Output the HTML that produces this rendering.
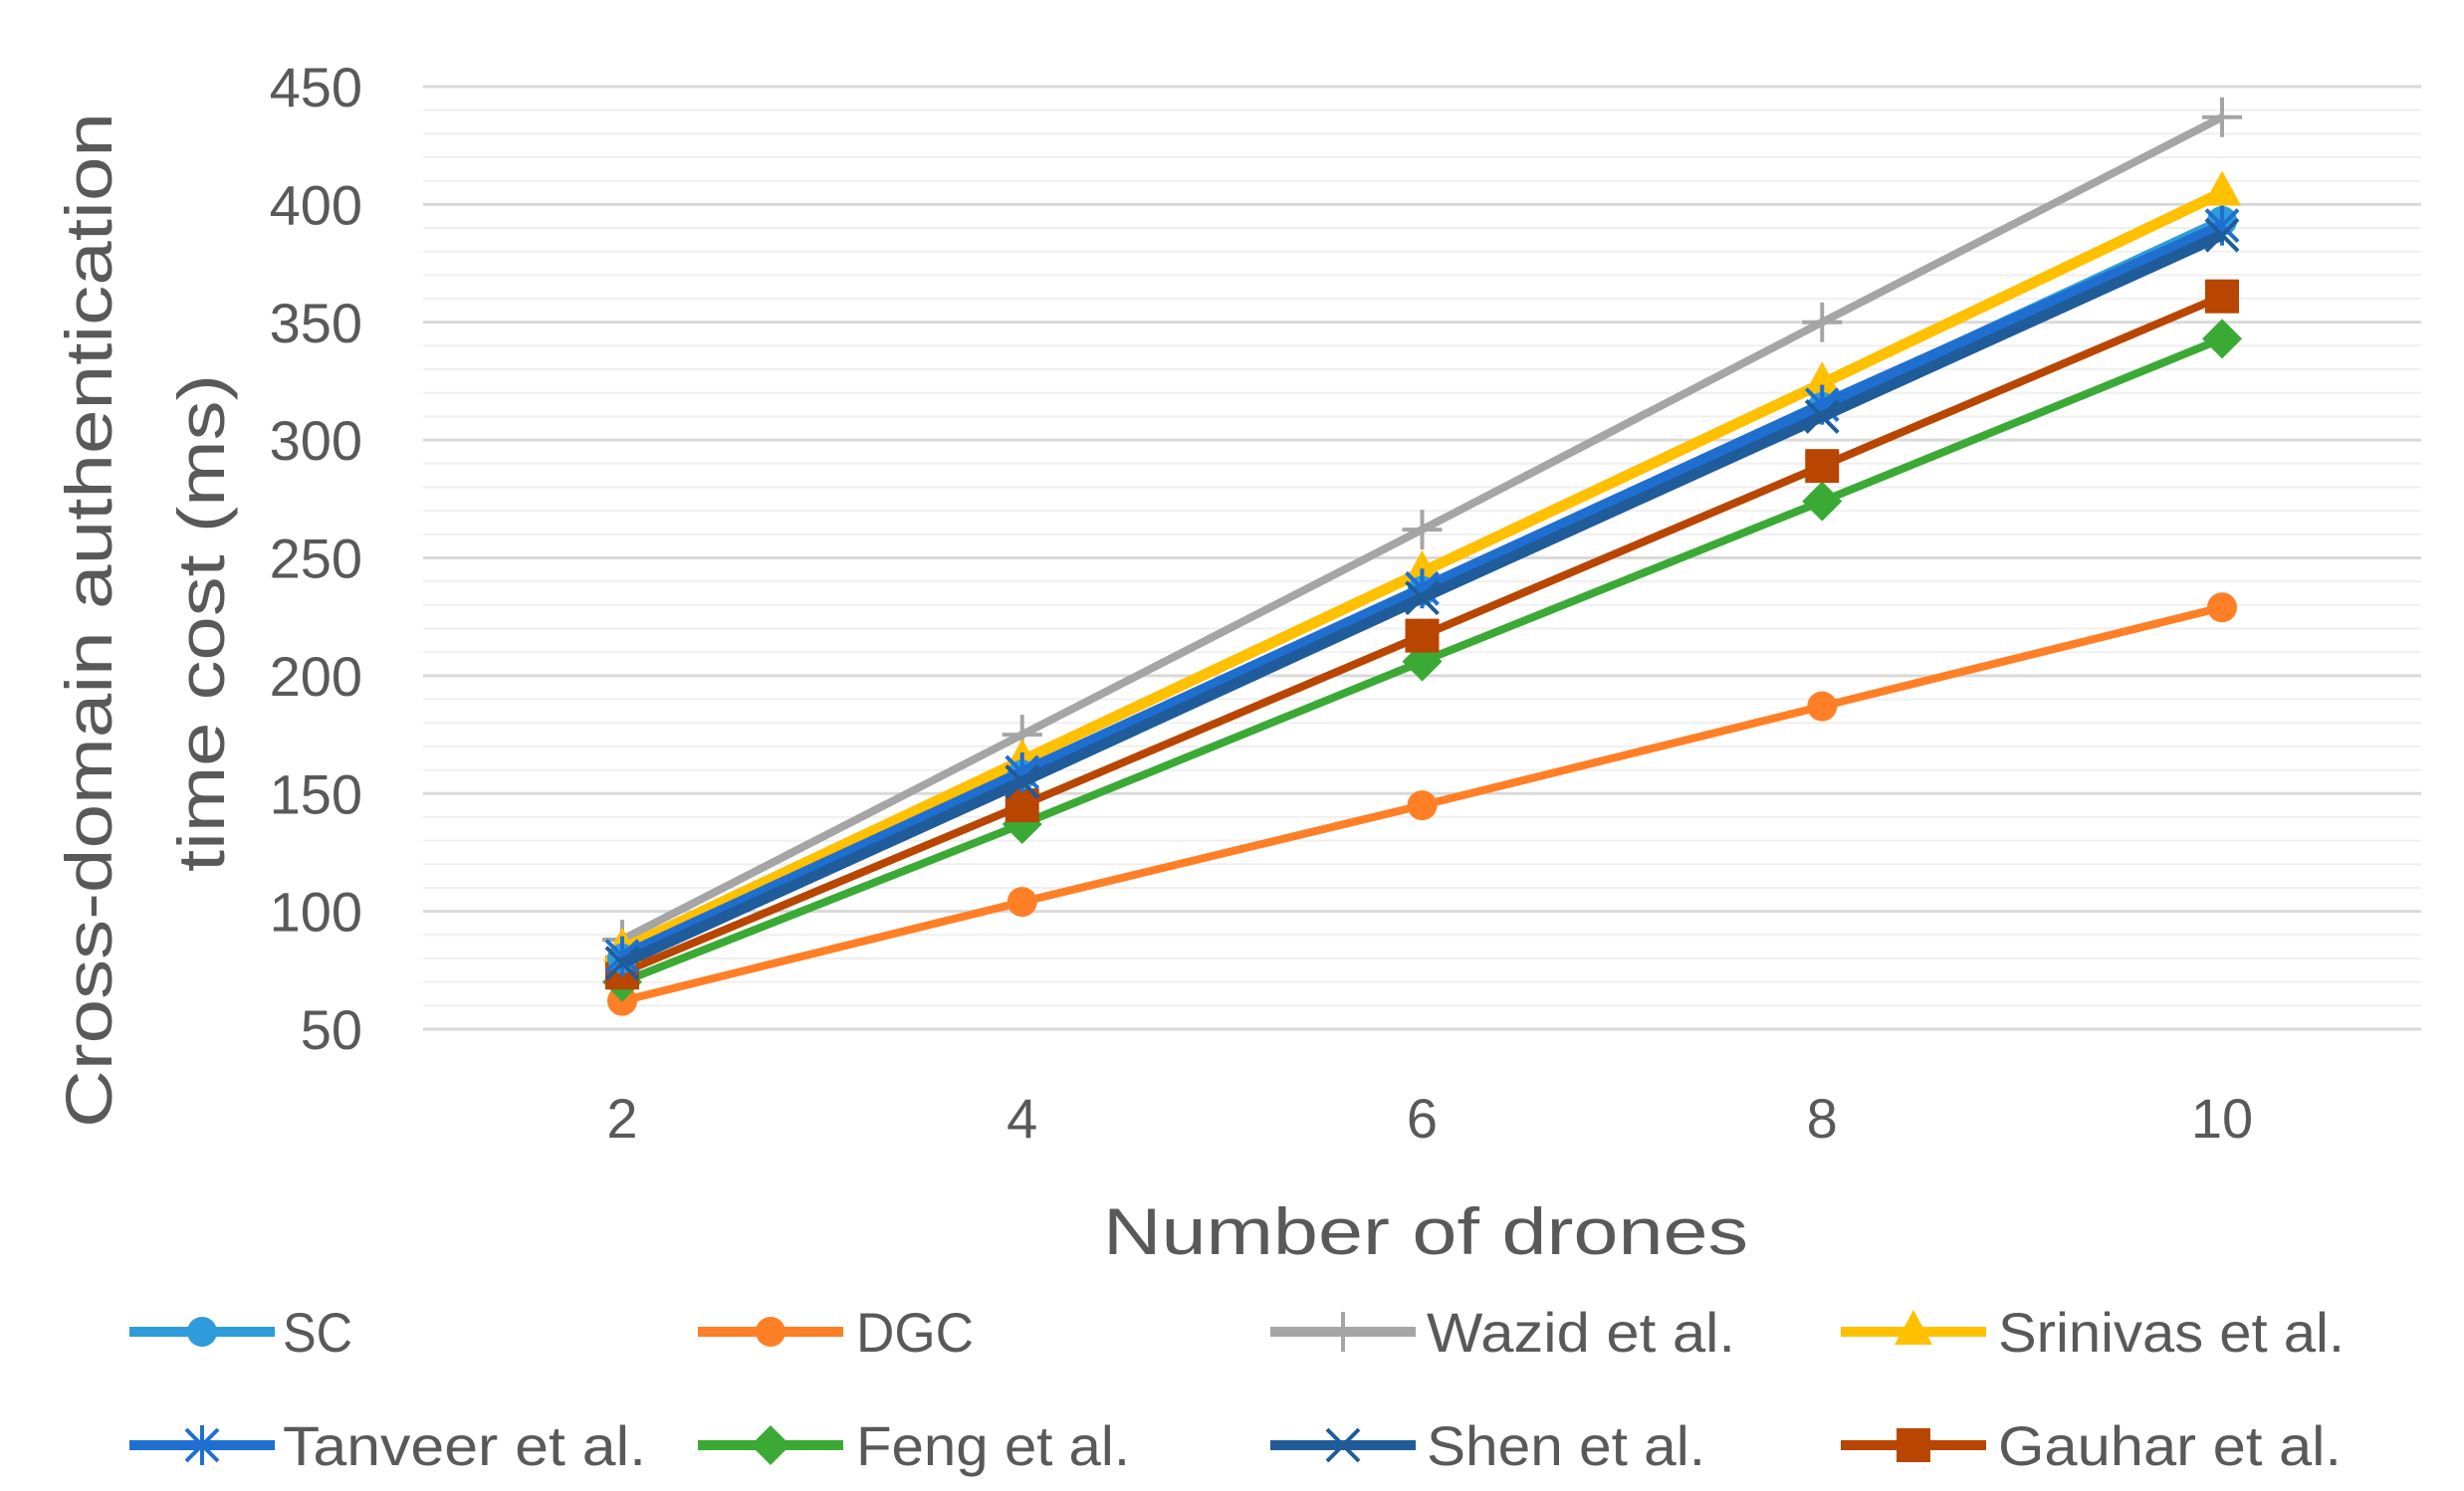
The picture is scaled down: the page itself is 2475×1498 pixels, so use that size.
<!DOCTYPE html>
<html><head><meta charset="utf-8"><style>
html,body{margin:0;padding:0;background:#fff;}
svg{display:block;}
text{font-family:"Liberation Sans",sans-serif;fill:#595959;}
</style></head><body>
<svg id="s" width="2475" height="1498" viewBox="0 0 2475 1498" xmlns="http://www.w3.org/2000/svg">
<rect width="2475" height="1498" fill="#fff"/>
<g id="grid"></g>
<g id="series"></g>
<g id="labels"></g>
<text x="0" y="0" transform="translate(112,623) rotate(-90)" text-anchor="middle" font-size="66" textLength="1020" lengthAdjust="spacingAndGlyphs">Cross-domain authentication</text>
<text x="0" y="0" transform="translate(225,626) rotate(-90)" text-anchor="middle" font-size="66" textLength="500" lengthAdjust="spacingAndGlyphs">time cost (ms)</text>
<text x="1432" y="1260" text-anchor="middle" font-size="66" textLength="648" lengthAdjust="spacingAndGlyphs">Number of drones</text>
<g id="legend"></g>
</svg>
<script>
const NS="http://www.w3.org/2000/svg";
function el(t,a,p){const e=document.createElementNS(NS,t);for(const k in a)e.setAttribute(k,a[k]);p.appendChild(e);return e;}
const L=425,R=2432,Y450=87,PX=2.3675;
const yv=v=>Y450+(450-v)*PX;
const xv=n=>625+(n-2)/2*401.75;
const g=document.getElementById('grid');
for(let v=50;v<=450;v+=10){
  const major=v%50===0;
  el('line',{x1:L,x2:R,y1:yv(v),y2:yv(v),stroke:major?'#d9d9d9':'#efefef','stroke-width':major?3:2},g);
}
const lb=document.getElementById('labels');
for(let v=50;v<=450;v+=50){const t=el('text',{x:364,y:yv(v)+20,'text-anchor':'end','font-size':56},lb);t.textContent=v;}
[2,4,6,8,10].forEach(n=>{const t=el('text',{x:xv(n),y:1143,'text-anchor':'middle','font-size':56},lb);t.textContent=n;});
const S=[
 ['Wazid et al.','#A5A5A5',[88,175,262,350,437],'plus',8],
 ['DGC','#FF7F27',[62,104,145,187,229],'circle',8],
 ['Feng et al.','#3AAA35',[70,137,206,274,343],'diamond',8],
 ['Gauhar et al.','#B84600',[74,145,217,289,361],'square',8],
 ['Srinivas et al.','#FFC000',[84,164,244,324,405],'tri',11],
 ['SC','#2E9CDB',[80,158,236,314,393],'circle',11],
 ['Tanveer et al.','#1F6FD0',[81,159,237,315,391],'star',11],
 ['Shen et al.','#1F5C99',[78,155,233,310,387],'x',11],
];
function marker(type,c,x,y,p,sz){
  sz=sz||1;
  if(type==='circle')el('circle',{cx:x,cy:y,r:15*sz,fill:c},p);
  else if(type==='square')el('rect',{x:x-17*sz,y:y-17*sz,width:34*sz,height:34*sz,fill:c},p);
  else if(type==='diamond')el('polygon',{points:`${x},${y-20*sz} ${x+20*sz},${y} ${x},${y+20*sz} ${x-20*sz},${y}`,fill:c},p);
  else if(type==='tri')el('polygon',{points:`${x},${y-22*sz} ${x+19*sz},${y+13*sz} ${x-19*sz},${y+13*sz}`,fill:c},p);
  else if(type==='plus'){el('path',{d:`M${x-20*sz} ${y}H${x+20*sz}M${x} ${y-20*sz}V${y+20*sz}`,stroke:c,'stroke-width':4,fill:'none'},p);}
  else if(type==='x'){el('path',{d:`M${x-16*sz} ${y-16*sz}L${x+16*sz} ${y+16*sz}M${x+16*sz} ${y-16*sz}L${x-16*sz} ${y+16*sz}`,stroke:c,'stroke-width':4,fill:'none'},p);}
  else if(type==='star'){el('path',{d:`M${x-16*sz} ${y-16*sz}L${x+16*sz} ${y+16*sz}M${x+16*sz} ${y-16*sz}L${x-16*sz} ${y+16*sz}M${x} ${y-20*sz}V${y+20*sz}`,stroke:c,'stroke-width':4,fill:'none'},p);}
}
const sg=document.getElementById('series');
S.forEach(([n,c,d,m,w])=>{
  el('polyline',{points:d.map((v,i)=>xv(2+2*i)+','+yv(v)).join(' '),stroke:c,'stroke-width':w,fill:'none','stroke-linejoin':'round'},sg);
  d.forEach((v,i)=>marker(m,c,xv(2+2*i),yv(v),sg));
});
const lg=document.getElementById('legend');
const LE=[
 ['SC','#2E9CDB','circle',130,1338,284,70],
 ['DGC','#FF7F27','circle',701,1338,860,118],
 ['Wazid et al.','#A5A5A5','plus',1276,1338,1433,310],
 ['Srinivas et al.','#FFC000','tri',1849,1338,2007,348],
 ['Tanveer et al.','#1F6FD0','star',130,1452,284,365],
 ['Feng et al.','#3AAA35','diamond',701,1452,860,275],
 ['Shen et al.','#1F5C99','x',1276,1452,1433,280],
 ['Gauhar et al.','#B84600','square',1849,1452,2007,345],
];
LE.forEach(([n,c,m,x,y,tx,tl])=>{
  el('line',{x1:x,x2:x+146,y1:y,y2:y,stroke:c,'stroke-width':10},lg);
  marker(m,c,x+73,y,lg,1);
  const t=el('text',{x:tx,y:y+20,'font-size':56,textLength:tl,lengthAdjust:'spacingAndGlyphs'},lg);t.textContent=n;
});
</script>
</body></html>
